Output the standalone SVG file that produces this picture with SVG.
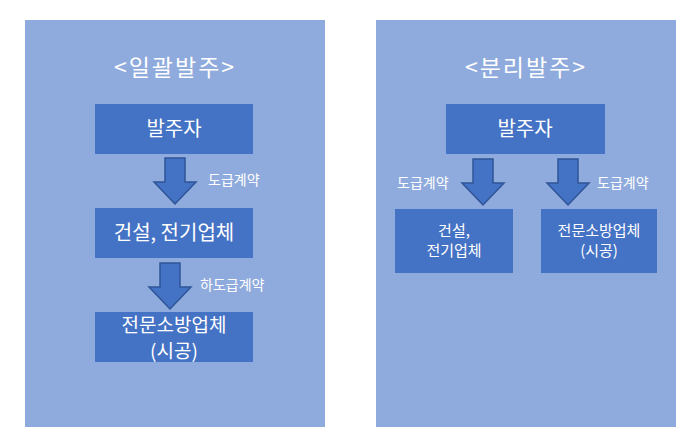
<svg xmlns="http://www.w3.org/2000/svg" width="700" height="445" viewBox="0 0 700 445">
<style>
.panel{fill:#8FAADC}
.box{fill:#4472C4}
.arr{fill:#4472C4;stroke:#2F5597;stroke-width:1.5}
text{font-family:"Noto Sans CJK KR","Noto Sans",sans-serif;fill:#fff;text-anchor:middle}
.t{font-size:23px;letter-spacing:2px}
.b{font-size:20px}
.m{font-size:19px}
.s{font-size:15px}
.l{font-size:14px;text-anchor:start}
</style>
<defs>
<path id="dn" d="M-10,0 H10 V24 H21 L0,46 L-21,24 H-10 Z"/>
</defs>
<rect class="panel" x="25" y="20" width="300" height="407"/>
<rect class="panel" x="376" y="20" width="300" height="407"/>
<text class="t" x="175" y="76">&lt;일괄발주&gt;</text>
<text class="t" x="526" y="76">&lt;분리발주&gt;</text>
<g id="L1"><rect class="box" x="95" y="104" width="158" height="50"/><text class="b" x="174" y="136">발주자</text></g>
<g id="L2"><rect class="box" x="95" y="208" width="158" height="50"/><text class="b" x="174" y="240">건설, 전기업체</text></g>
<g id="L3"><rect class="box" x="95" y="312" width="158" height="50"/><text class="m" x="174" y="332">전문소방업체</text><text class="m" x="174" y="358">(시공)</text></g>
<g id="R1"><rect class="box" x="446" y="104" width="159" height="50"/><text class="b" x="525" y="136">발주자</text></g>
<g id="R2"><rect class="box" x="395" y="209" width="118" height="64"/><text class="s" x="454" y="236">건설,</text><text class="s" x="454" y="256">전기업체</text></g>
<g id="R3"><rect class="box" x="541" y="209" width="116" height="64"/><text class="s" x="599" y="236">전문소방업체</text><text class="s" x="599" y="256">(시공)</text></g>
<g id="connectors">
<use href="#dn" class="arr" x="175" y="158"/>
<use href="#dn" class="arr" x="170" y="263"/>
<use href="#dn" class="arr" x="483" y="159"/>
<use href="#dn" class="arr" x="568" y="159"/>
<text class="l" x="208" y="185">도급계약</text>
<text class="l" x="200" y="290">하도급계약</text>
<text class="l" x="397" y="188">도급계약</text>
<text class="l" x="597" y="188">도급계약</text>
</g>
</svg>
